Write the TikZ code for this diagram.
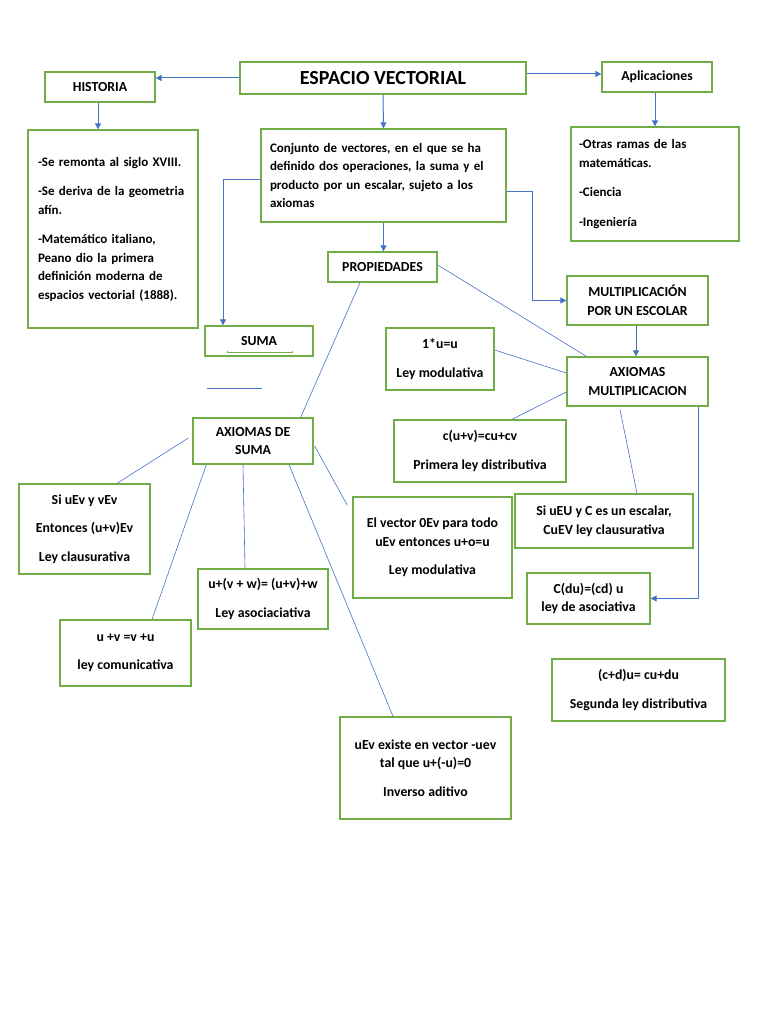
\documentclass[tikz,border=0pt]{standalone}
\usepackage{fontspec}
\setmainfont{Carlito}
\usepackage{tikz}
\usetikzlibrary{arrows.meta}
\definecolor{verde}{HTML}{70AD47}
\definecolor{azul}{HTML}{4472C4}

\begin{document}
\begin{tikzpicture}
    [x=1pt, y=-1pt, font=\bfseries\fontsize{13.8}{18.5}\selectfont,
    caja/.style={draw=verde, line width=1.3pt, inner sep=0pt, align=center},
    lista/.style={caja, align=left, font=\bfseries\fontsize{13}{18.5}\selectfont},
    flecha/.style={-{Triangle[length=6pt,width=6pt]}, draw=azul, line width=1pt},
    enlace/.style={draw=azul, line width=0.6pt}]

\useasboundingbox (0,0) rectangle (768,1024);

% fila de arriba
\node[caja, minimum width=286pt, minimum height=32pt, font=\bfseries\fontsize{20}{23}\selectfont] (titulo) at (383,78) {ESPACIO VECTORIAL};
\node[caja, minimum width=110pt, minimum height=30pt] (historia) at (100,87) {HISTORIA};
\node[caja, minimum width=110pt, minimum height=30pt] (aplicaciones) at (657,77) {Aplicaciones};

\node[lista, minimum width=170pt, minimum height=198pt, text width=150pt, inner xsep=10pt] (histtexto) at (113,229)
    {-Se remonta al siglo XVIII.\\[11pt]-Se deriva de la geometria\\afín.\\[11pt]-Matemático italiano,\\Peano dio la primera\\definición moderna de\\espacios vectorial (1888).};
\node[lista, minimum width=245pt, minimum height=93pt, text width=227pt, inner xsep=9pt] (conjunto) at (383.5,175.5)
    {Conjunto de vectores, en el que se ha\\definido dos operaciones, la suma y el\\producto por un escalar, sujeto a los\\axiomas};
\node[lista, minimum width=168pt, minimum height=114pt, text width=152pt, inner xsep=8pt] (apltexto) at (655,184)
    {-Otras ramas de las\\matemáticas.\\[11pt]-Ciencia\\[11pt]-Ingeniería};

% propiedades
\node[caja, minimum width=109pt, minimum height=30pt] (propiedades) at (382.5,267) {PROPIEDADES};
\node[caja, minimum width=108pt, minimum height=30pt] (suma) at (259,341) {SUMA};
\node[caja, minimum width=141pt, minimum height=49pt] (multesc) at (637.5,300.5) {MULTIPLICACIÓN\\POR UN ESCOLAR};
\node[caja, minimum width=141pt, minimum height=49pt] (axmult) at (637.5,381.5) {AXIOMAS\\MULTIPLICACION};
\node[caja, minimum width=108pt, minimum height=62pt] (modmult) at (440,359) {1*u=u\\[10pt]Ley modulativa};

% axiomas de suma
\node[caja, minimum width=120pt, minimum height=46pt] (axsuma) at (253,441) {AXIOMAS DE\\SUMA};
\node[caja, minimum width=131pt, minimum height=90pt] (clausura) at (84.5,529) {Si uEv y vEv\\[10pt]Entonces (u+v)Ev\\[10pt]Ley clausurativa};
\node[caja, minimum width=130pt, minimum height=60pt] (asociativa) at (263,599) {u+(v + w)= (u+v)+w\\[10pt]Ley asociaciativa};
\node[caja, minimum width=131pt, minimum height=66pt] (conmutativa) at (125.5,653) {u +v =v +u\\[10pt]ley comunicativa};
\node[caja, minimum width=159pt, minimum height=101pt] (modulativa) at (432.5,547.5) {El vector 0Ev para todo\\uEv entonces u+o=u\\[10pt]Ley modulativa};
\node[caja, minimum width=171pt, minimum height=102pt] (inverso) at (425.5,768) {uEv existe en vector -uev\\tal que u+(-u)=0\\[10pt]Inverso aditivo};

% axiomas de multiplicacion
\node[caja, minimum width=172pt, minimum height=62pt] (distrib1) at (480,451) {c(u+v)=cu+cv\\[10pt]Primera ley distributiva};
\node[caja, minimum width=178pt, minimum height=54pt] (clausmult) at (604,521) {Si uEU y C es un escalar,\\CuEV ley clausurativa};
\node[caja, minimum width=123pt, minimum height=51pt] (asocmult) at (588.5,598.5) {C(du)=(cd) u\\ley de asociativa};
\node[caja, minimum width=173pt, minimum height=62pt] (distrib2) at (638.5,690) {(c+d)u= cu+du\\[10pt]Segunda ley distributiva};

\draw[verde, line width=0.8pt] ([xshift=-32pt,yshift=6pt]suma.south) -- ++(0,2) -- ++(65,0) -- ++(0,-2);
\coordinate (trazoA) at (207,388);
\coordinate (trazoB) at (262,388);
\draw[azul, line width=0.9pt] (trazoA) -- (trazoB);

% flechas
\draw[flecha] (titulo.west) -- (titulo.west -| historia.east);
\draw[flecha] ([yshift=4pt]titulo.east) -- ([yshift=4pt]titulo.east -| aplicaciones.west);
\draw[flecha] ([xshift=-2pt]historia.south) -- ([xshift=-2pt]historia.south |- histtexto.north);
\draw[flecha] (titulo.south) -- (conjunto.north);
\draw[flecha] ([xshift=-2pt]aplicaciones.south) -- ([xshift=-2pt]aplicaciones.south |- apltexto.north);
\draw[flecha] (conjunto.south) -- (conjunto.south |- propiedades.north);
\draw[flecha] ([yshift=-4.5pt]conjunto.west) -| ([xshift=-36pt]suma.north);
\draw[flecha] ([yshift=-16.5pt]conjunto.east) -- ++(26,0) |- (multesc.west);
\draw[flecha] ([xshift=-1.5pt]multesc.south) -- ([xshift=-1.5pt]axmult.north);
\draw[flecha] ([xshift=-10pt]axmult.south east) |- (asocmult.east);

% enlaces
\draw[enlace] ([yshift=2pt]propiedades.east) -- ([xshift=20pt]axmult.north west);
\draw[enlace] ([xshift=-22.5pt]propiedades.south) -- ([xshift=-13pt]axsuma.north east);
\draw[enlace] ([yshift=9pt]modmult.east) -- ([yshift=8.5pt]axmult.west);
\draw[enlace] ([yshift=-10.5pt]axmult.west) -- ([xshift=32pt]distrib1.north);
\draw[enlace] ([xshift=-17.5pt,yshift=-3pt]axmult.south) -- ([xshift=33pt]clausmult.north);
\draw[enlace] ([xshift=-4pt,yshift=3pt]axsuma.west) -- ([xshift=32.5pt]clausura.north);
\draw[enlace] ([xshift=14pt]axsuma.south west) -- ([xshift=26.5pt]conmutativa.north);
\draw[enlace] ([xshift=-10pt]axsuma.south) -- ([xshift=-18pt]asociativa.north);
\draw[enlace] ([xshift=36pt]axsuma.south) -- ([xshift=-32.5pt]inverso.north);
\draw[enlace] ([xshift=1pt,yshift=-5pt]axsuma.east) -- ([xshift=-5pt,yshift=-9pt]modulativa.north west);
\end{tikzpicture}
\end{document}
